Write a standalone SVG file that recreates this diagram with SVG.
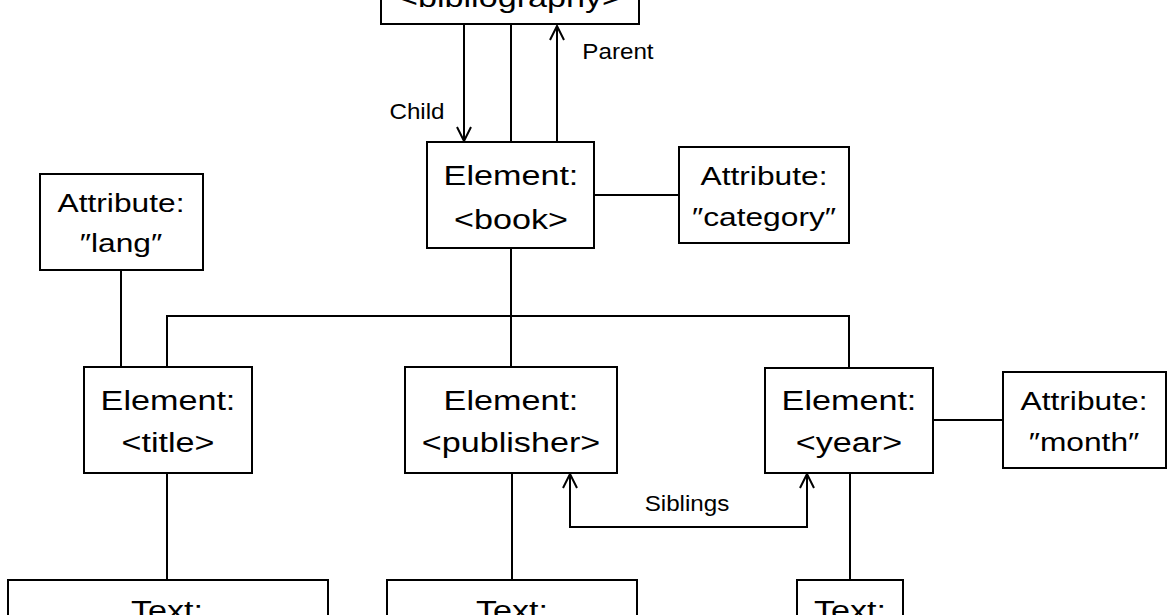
<svg xmlns="http://www.w3.org/2000/svg" width="1170" height="615" viewBox="0 0 1170 615">
<style>
  .box { fill: #ffffff; stroke: #000000; stroke-width: 2; }
  .ln { fill: none; stroke: #000000; stroke-width: 2; }
  text { font-family: "Liberation Sans", Arial, sans-serif; fill: #000000; text-anchor: middle; transform-box: fill-box; transform-origin: center; }
  .el { font-size: 28px; transform: scaleX(1.22); }
  .at { font-size: 26px; transform: scaleX(1.22); }
  .lb { font-size: 22px; transform: scaleX(1.1); }
</style>
<defs>
  <marker id="open" markerWidth="18" markerHeight="18" refX="15" refY="8" orient="auto-start-reverse" markerUnits="userSpaceOnUse" viewBox="0 0 18 16">
    <path d="M1,1 L15,8 L1,15" fill="none" stroke="#000" stroke-width="2"/>
  </marker>
</defs>
<rect width="1170" height="615" fill="#ffffff"/>

<g id="connectors">
  <line class="ln" x1="464" y1="24" x2="464" y2="141" marker-end="url(#open)"/>
  <line class="ln" x1="511" y1="24" x2="511" y2="142"/>
  <line class="ln" x1="557" y1="142" x2="557" y2="26" marker-end="url(#open)"/>
  <line class="ln" x1="594" y1="195" x2="679" y2="195"/>
  <line class="ln" x1="511" y1="248" x2="511" y2="367"/>
  <polyline class="ln" points="167,367 167,316 849,316 849,368"/>
  <line class="ln" x1="121" y1="270" x2="121" y2="367"/>
  <line class="ln" x1="933" y1="420" x2="1003" y2="420"/>
  <path class="ln" d="M570,474 V527 H807 V474" marker-start="url(#open)" marker-end="url(#open)"/>
  <line class="ln" x1="167" y1="473" x2="167" y2="580"/>
  <line class="ln" x1="512" y1="473" x2="512" y2="580"/>
  <line class="ln" x1="850" y1="473" x2="850" y2="580"/>
  <text class="lb" x="417" y="119">Child</text>
  <text class="lb" x="618" y="59">Parent</text>
  <text class="lb" x="687" y="511">Siblings</text>
</g>

<g id="bibliography">
  <rect class="box" x="381" y="-80" width="258" height="104"/>
  <text class="el" x="510" y="7">&lt;bibliography&gt;</text>
</g>

<g id="book">
  <rect class="box" x="427" y="142" width="167" height="106"/>
  <text class="el" x="511" y="185">Element:</text>
  <text class="el" x="511" y="229">&lt;book&gt;</text>
</g>

<g id="category">
  <rect class="box" x="679" y="147" width="170" height="96"/>
  <text class="at" x="764" y="185">Attribute:</text>
  <text class="at" x="764" y="226">″category″</text>
</g>

<g id="lang">
  <rect class="box" x="40" y="174" width="163" height="96"/>
  <text class="at" x="121" y="212">Attribute:</text>
  <text class="at" x="121" y="252">″lang″</text>
</g>

<g id="title">
  <rect class="box" x="84" y="367" width="168" height="106"/>
  <text class="el" x="168" y="410">Element:</text>
  <text class="el" x="168" y="452">&lt;title&gt;</text>
</g>

<g id="publisher">
  <rect class="box" x="405" y="367" width="212" height="106"/>
  <text class="el" x="511" y="410">Element:</text>
  <text class="el" x="511" y="452">&lt;publisher&gt;</text>
</g>

<g id="year">
  <rect class="box" x="765" y="368" width="168" height="105"/>
  <text class="el" x="849" y="410">Element:</text>
  <text class="el" x="849" y="452">&lt;year&gt;</text>
</g>

<g id="month">
  <rect class="box" x="1003" y="372" width="163" height="96"/>
  <text class="at" x="1084" y="410">Attribute:</text>
  <text class="at" x="1084" y="451">″month″</text>
</g>

<g id="text-title">
  <rect class="box" x="8" y="580" width="320" height="80"/>
  <text class="el" x="167" y="620">Text:</text>
</g>

<g id="text-publisher">
  <rect class="box" x="387" y="580" width="250" height="80"/>
  <text class="el" x="512" y="620">Text:</text>
</g>

<g id="text-year">
  <rect class="box" x="797" y="580" width="106" height="80"/>
  <text class="el" x="850" y="620">Text:</text>
</g>
</svg>
